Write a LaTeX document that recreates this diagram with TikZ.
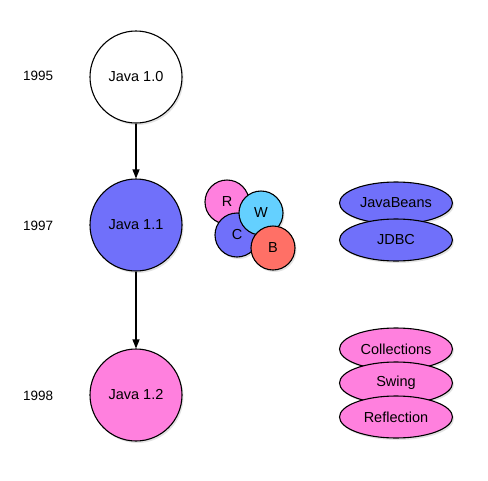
\documentclass[tikz,border=0pt]{standalone}
\usepackage{fontspec}
\setmainfont{Liberation Sans}
\usetikzlibrary{arrows.meta,shapes.geometric,shadows}
\definecolor{jblue}{RGB}{112,112,250}
\definecolor{jpink}{RGB}{255,128,222}
\definecolor{jcyan}{RGB}{100,208,255}
\definecolor{jred}{RGB}{255,112,102}
\tikzset{
  x=1pt,y=-1pt,
  base/.style={draw=black,line width=1.1pt,font=\fontsize{14.5}{17}\selectfont,inner sep=0pt,
    drop shadow={opacity=0.22,shadow xshift=1.5pt,shadow yshift=-2pt}},
  big/.style={base,circle,minimum size=92pt},
  small/.style={base,circle,minimum size=44pt},
  oval/.style={base,ellipse,minimum width=113pt,minimum height=42pt},
  year/.style={font=\fontsize{13.5}{16}\selectfont,anchor=west,inner sep=0pt},
  link/.style={-{Triangle[length=9pt,width=7pt]},line width=1.1pt}
}
\begin{document}
\begin{tikzpicture}
\useasboundingbox (0,0) rectangle (488,480);
\fill[white] (0,0) rectangle (488,480);
\node[year] (y95) at (23,76) {1995};
\node[year] (y97) at (23,226) {1997};
\node[year] (y98) at (23,396) {1998};
\node[big,fill=white] (j10) at (136,77) {Java 1.0};
\node[big,fill=jblue] (j11) at (136,225) {Java 1.1};
\node[big,fill=jpink] (j12) at (136,395) {Java 1.2};
\draw[link] (j10) -- (j11);
\draw[link] (j11) -- (j12);
\node[small,fill=jpink] (r) at (227,202) {R};
\node[small,fill=jblue] (c) at (237,235) {C};
\node[small,fill=jcyan] (w) at (261,213) {W};
\node[small,fill=jred] (b) at (273,248) {B};
\node[oval,fill=jblue] (jb) at (396,203) {JavaBeans};
\node[oval,fill=jblue] (jdbc) at (396,240) {JDBC};
\node[oval,fill=jpink] (col) at (396,349) {Collections};
\node[oval,fill=jpink] (sw) at (396,383) {Swing};
\node[oval,fill=jpink] (ref) at (396,417) {Reflection};
\end{tikzpicture}
\end{document}
